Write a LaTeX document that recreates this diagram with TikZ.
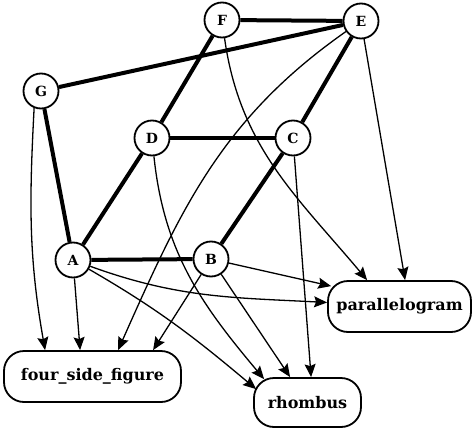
\documentclass[tikz,border=0pt]{standalone}
\usepackage{fontspec}
\setmainfont{DejaVu Serif}
\usetikzlibrary{arrows.meta,calc}
\begin{document}
\begin{tikzpicture}[x=1pt,y=-1pt,
  vtx/.style={circle,draw,line width=1.8pt,fill=white,minimum size=35pt,inner sep=0pt,font=\bfseries\fontsize{14}{16}\selectfont},
  box/.style={draw,line width=1.8pt,rounded corners=20pt,inner sep=0pt,font=\bfseries\fontsize{16}{18}\selectfont},
  heavy/.style={line width=4pt},
  arr/.style={line width=1.3pt,-{Stealth[length=13pt,width=11pt,inset=2pt]}}]
\useasboundingbox (0,0) rectangle (474,431);
\node[vtx] (F) at (222,20) {F};
\node[vtx] (E) at (361,21) {E};
\node[vtx] (G) at (41,91) {G};
\node[vtx] (D) at (152,138) {D};
\node[vtx] (C) at (293,138) {C};
\node[vtx] (A) at (73,260) {A};
\node[vtx] (B) at (211,259) {B};
\node[box,minimum width=177pt,minimum height=51pt] (fsf) at (92.5,376.5) {four\_side\_figure};
\node[box,minimum width=143pt,minimum height=51pt] (para) at (399.5,306.5) {parallelogram};
\node[box,minimum width=107pt,minimum height=49pt] (rho) at (307.5,402.5) {rhombus};
% heavy undirected edges
\draw[heavy] (F) -- (E);
\draw[heavy] (G) -- (E);
\draw[heavy] (F) -- (D);
\draw[heavy] (D) -- (A);
\draw[heavy] (D) -- (C);
\draw[heavy] (E) -- (C);
\draw[heavy] (C) -- (B);
\draw[heavy] (A) -- (B);
\draw[heavy] (G) -- (A);
% into four_side_figure
\draw[arr] (G.-112) to[out=-93,in=100] ($(fsf.north west)+(42,0)$);
\draw[arr] (A) -- ($(fsf.north west)+(77,0)$);
\draw[arr] (E) to[out=-145,in=66] ($(fsf.north west)+(115,0)$);
\draw[arr] (B) -- ($(fsf.north west)+(150,0)$);
% into parallelogram
\draw[arr] (F) to[out=-82,in=130] ($(para.north west)+(40,0)$);
\draw[arr] (E) -- ($(para.north west)+(78,0)$);
\draw[arr] (B) -- ($(para.north west)+(4,6)$);
\draw[arr] (A) to[out=-20,in=177] ($(para.west)+(0,-4)$);
% into rhombus
\draw[arr] (A) to[out=-30,in=140] ($(rho.north west)+(3,12)$);
\draw[arr] (D) to[out=-84,in=130] ($(rho.north west)+(11,2)$);
\draw[arr] (B) -- ($(rho.north west)+(37,0)$);
\draw[arr] (C) -- ($(rho.north west)+(58,0)$);
\end{tikzpicture}
\end{document}
